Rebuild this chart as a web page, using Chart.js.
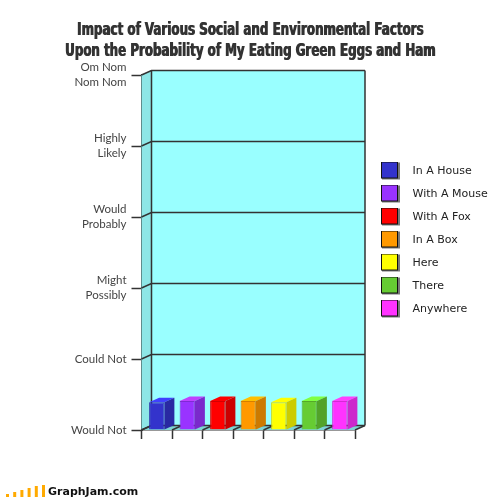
<!DOCTYPE html>
<html><head><meta charset="utf-8">
<script src="https://cdn.jsdelivr.net/npm/chart.js@4"></script>
<style>html,body{margin:0;padding:0;background:#fff}canvas{display:block}</style>
</head><body><canvas id="c" width="504" height="497"></canvas>
<script>
const titleLines = ['Impact of Various Social and Environmental Factors','Upon the Probability of My Eating Green Eggs and Ham'];
const categories = ['In A House','With A Mouse','With A Fox','In A Box','Here','There','Anywhere'];
const values = [0.39,0.41,0.41,0.41,0.39,0.41,0.41];
const tickLabels = [['Would Not'],['Could Not'],['Might','Possibly'],['Would','Probably'],['Highly','Likely'],['Om Nom','Nom Nom']];
const frontColors = ['#3333cc','#9933ff','#ff0000','#ff9900','#ffff00','#66cc33','#ff33ff'];
const edgeColors  = ['#2a2aa8','#7f2ad4','#d40000','#d47f00','#d4d400','#55a82a','#d42ad4'];
const topColors   = ['#4040ff','#bf40ff','#ff0000','#ffbf00','#ffff00','#80ff40','#ff40ff'];
const sideColors  = ['#2929a3','#7a29cc','#cc0000','#cc7a00','#cccc00','#52a329','#cc29cc'];
const footerText = 'GraphJam.com';
const logoBarHeights = [3,5,7,9,11,12];

const DX = 10, DY = 4.5, LINE = '#333333';
const TITLE_SQUEEZE = 0.735, TITLE_CENTER = 250;

function swatch(color){
  const s = document.createElement('canvas'); s.width = 26; s.height = 20;
  const g = s.getContext('2d');
  g.fillStyle = '#777'; g.fillRect(1,1,18,17);
  g.fillStyle = '#111'; g.fillRect(0,0,17,17);
  g.fillStyle = color; g.fillRect(1,1,15,15);
  return s;
}

const scene = {
  id:'scene',
  beforeLayout(chart){
    const l = chart.legend;
    if(l && !l._wrapped){ const f = l.fit; l.fit = function(){ f.call(this); this.width = 149; }; l._wrapped = true; }
    const t = chart.titleBlock;
    if(t && !t._wrapped){
      const d = t.draw;
      t.draw = function(){
        const c = this.ctx;
        c.save();
        const cx = (this.left+this.right)/2;
        c.translate(TITLE_CENTER,0); c.scale(TITLE_SQUEEZE,1); c.translate(-cx,0);
        c.shadowColor = '#333'; c.shadowBlur = 0; c.shadowOffsetX = 0.8; c.shadowOffsetY = 0;
        d.call(this);
        c.restore();
      };
      t._wrapped = true;
    }
  },
  afterLayout(chart){
    const l = chart.legend;
    if(l){ l.left = 369; l.top = 154; }
  },
  beforeDatasetsDraw(chart){
    const {ctx, chartArea:a, scales:{x,y}} = chart;
    ctx.save();
    ctx.fillStyle = '#99ffff';
    ctx.fillRect(a.left+DX, a.top-DY, a.right-a.left, a.bottom-a.top);
    ctx.fillStyle = '#8ee6e6';
    ctx.beginPath();
    ctx.moveTo(a.left,a.top); ctx.lineTo(a.left+DX,a.top-DY); ctx.lineTo(a.left+DX,a.bottom-DY); ctx.lineTo(a.left,a.bottom); ctx.closePath(); ctx.fill();
    ctx.fillStyle = '#7fd4d4';
    ctx.beginPath();
    ctx.moveTo(a.left,a.bottom); ctx.lineTo(a.left+DX,a.bottom-DY); ctx.lineTo(a.right+DX,a.bottom-DY); ctx.lineTo(a.right,a.bottom); ctx.closePath(); ctx.fill();
    ctx.strokeStyle = LINE; ctx.lineWidth = 1.5;
    y.ticks.forEach(t=>{
      const p = y.getPixelForValue(t.value);
      ctx.beginPath(); ctx.moveTo(a.left,p); ctx.lineTo(a.left+DX,p-DY); ctx.lineTo(a.right+DX,p-DY); ctx.stroke();
    });
    for(let i=0;i<=categories.length;i++){
      const px = a.left + (a.right-a.left)*i/categories.length;
      ctx.beginPath(); ctx.moveTo(px,a.bottom); ctx.lineTo(px+DX,a.bottom-DY); ctx.stroke();
    }
    ctx.beginPath();
    ctx.moveTo(a.left+DX,a.top-DY); ctx.lineTo(a.left+DX,a.bottom-DY);
    ctx.moveTo(a.right+DX,a.top-DY); ctx.lineTo(a.right+DX,a.bottom-DY);
    ctx.stroke();
    chart.getDatasetMeta(0).data.forEach((b,i)=>{
      const {x:cx,y:ty,base,width} = b.getProps(['x','y','base','width'],true);
      const L = cx-width/2, R = cx+width/2;
      ctx.fillStyle = topColors[i];
      ctx.beginPath(); ctx.moveTo(L,ty); ctx.lineTo(L+DX,ty-DY); ctx.lineTo(R+DX,ty-DY); ctx.lineTo(R,ty); ctx.closePath(); ctx.fill();
      ctx.fillStyle = sideColors[i];
      ctx.beginPath(); ctx.moveTo(R,ty); ctx.lineTo(R+DX,ty-DY); ctx.lineTo(R+DX,base-DY); ctx.lineTo(R,base); ctx.closePath(); ctx.fill();
    });
    ctx.restore();
  },
  afterDraw(chart){
    const ctx = chart.ctx;
    ctx.save();
    ctx.fillStyle = '#ffaa00';
    logoBarHeights.forEach((h,i)=>{ ctx.fillRect(6+i*7.2,497-h,3,h); });
    ctx.fillStyle = '#111';
    ctx.font = 'bold 11px "DejaVu Sans"';
    ctx.textBaseline = 'alphabetic'; ctx.textAlign = 'left';
    ctx.fillText(footerText,48,495);
    ctx.restore();
  }
};

new Chart(document.getElementById('c'),{
  type:'bar',
  data:{labels:categories,datasets:[{
    data:values,backgroundColor:frontColors,borderColor:edgeColors,borderWidth:1,
    barPercentage:0.5,categoryPercentage:1
  }]},
  options:{
    responsive:false,animation:false,
    layout:{padding:0},
    plugins:{
      tooltip:{enabled:false},
      title:{display:true,text:titleLines,color:'#333',
        font:{family:'"DejaVu Sans Condensed","Liberation Sans"',weight:'bold',size:18,lineHeight:'20.5px'},
        padding:{top:20.5,bottom:13.5}},
      legend:{display:true,position:'right',align:'start',
        labels:{
          usePointStyle:true,pointStyleWidth:26,boxHeight:17,padding:12,color:'#222',
          font:{family:'"DejaVu Sans"',size:11},
          generateLabels:()=>categories.map((t,i)=>({text:t,fontColor:'#222',pointStyle:swatch(frontColors[i]),fillStyle:frontColors[i],strokeStyle:'#111',lineWidth:0,hidden:false,index:i}))
        }}
    },
    scales:{
      x:{
        afterFit(s){s.height=67;},
        grid:{display:true,offset:true,drawOnChartArea:false,drawTicks:true,tickLength:9,tickColor:LINE,tickWidth:1.5},
        border:{color:LINE,width:1.5},
        ticks:{display:false}
      },
      y:{
        min:0,max:5,
        afterFit(s){s.width=141.5;},
        grid:{drawOnChartArea:false,drawTicks:true,tickLength:10,tickColor:LINE,tickWidth:1.5},
        border:{color:LINE,width:1.5},
        ticks:{stepSize:1,autoSkip:false,padding:5,color:'#444',
          font:{family:'Lato',size:11.5,lineHeight:'15px'},
          callback:(v)=>tickLabels[v]}
      }
    }
  },
  plugins:[scene]
});
</script></body></html>
